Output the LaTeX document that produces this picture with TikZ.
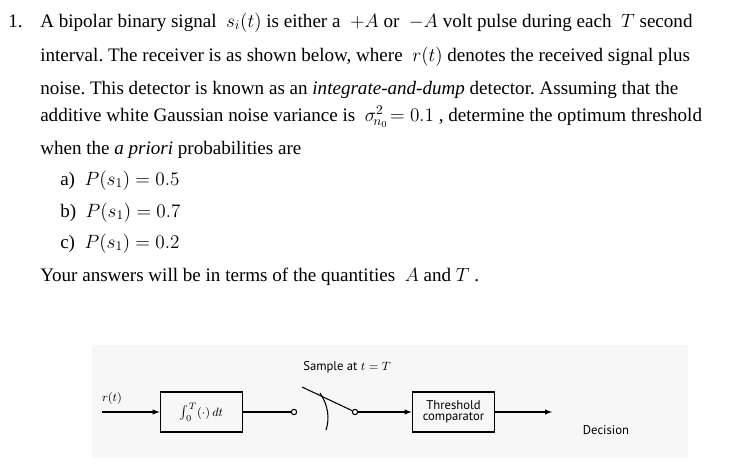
\documentclass[tikz,border=0pt]{standalone}
\usepackage{fontspec}
\setmainfont{Liberation Serif}
\newfontfamily\diag{PT Sans}
\begin{document}
\begin{tikzpicture}[x=0.75pt,y=-0.75pt,
  txt/.style={anchor=base west,inner sep=0pt,font=\fontsize{14.3}{16}\selectfont},
  blk/.style={draw,thick,minimum width=62pt,minimum height=30pt,inner sep=1pt,font=\diag\fontsize{9.5}{10}\selectfont},
  lbl/.style={inner sep=0pt,font=\diag\fontsize{9.5}{10}\selectfont},
  wire/.style={thick},
  arr/.style={thick,-latex}]
\useasboundingbox (0,0) rectangle (744,465);
\fill[black!3] (92,345) rectangle (688,458);
\node[txt] (l0) at (8,27) {1.};
\node[txt] (l1) at (40,27) {A bipolar binary signal \ $s_i(t)$\ is either a \ $+A$\ or \ $-A$\ volt pulse during each \ $T$\ second};
\node[txt] (l2) at (40,61) {interval.\ The receiver is as shown below, where \ $r(t)$\ denotes the received signal plus};
\node[txt] (l3) at (40,94) {noise.\ This detector is known as an \textit{integrate-and-dump} detector.\ Assuming that the};
\node[txt] (l4) at (40,121) {additive white Gaussian noise variance is \ $\sigma^2_{\!n_0}\!=0.1$ , determine the optimum threshold};
\node[txt] (l5) at (40,154) {when the \textit{a priori} probabilities are};
\node[txt] (a) at (60,185) {a)\ \ $P(s_1)=0.5$};
\node[txt] (b) at (60,217) {b)\ \ $P(s_1)=0.7$};
\node[txt] (c) at (60,248) {c)\ \ $P(s_1)=0.2$};
\node[txt] (l6) at (40,281) {Your answers will be in terms of the quantities \ $A$\ and $T$\ .};
% diagram
\coordinate (in) at (102,412);
\node[lbl] (rt) at (112,398) {$r(t)$};
\node[blk] (int) at (201.5,412) {$\int_0^T(\cdot)\,dt$};
\node[draw,thick,circle,inner sep=0pt,minimum size=4pt,fill=white] (c1) at (294,412) {};
\node[draw,thick,circle,inner sep=0pt,minimum size=4pt,fill=white] (c2) at (355,412) {};
\coordinate (sw) at (302,387);
\node[lbl] (samp) at (347,367) {Sample at $t=T$};
\node[blk] (thr) at (453.5,412) {\begin{tabular}{@{}c@{}}Threshold\\[-2pt]comparator\end{tabular}};
\coordinate (out) at (552,412);
\node[lbl] (dec) at (606,430) {Decision};
\draw[arr] (in) -- (int);
\draw[wire] (int) -- (c1);
\draw[wire] (sw) -- (c2);
\draw[wire] (320,393) .. controls (328,405) and (330,418) .. (326,430);
\draw[arr] (c2) -- (thr);
\draw[arr] (thr) -- (out);
\end{tikzpicture}
\end{document}
